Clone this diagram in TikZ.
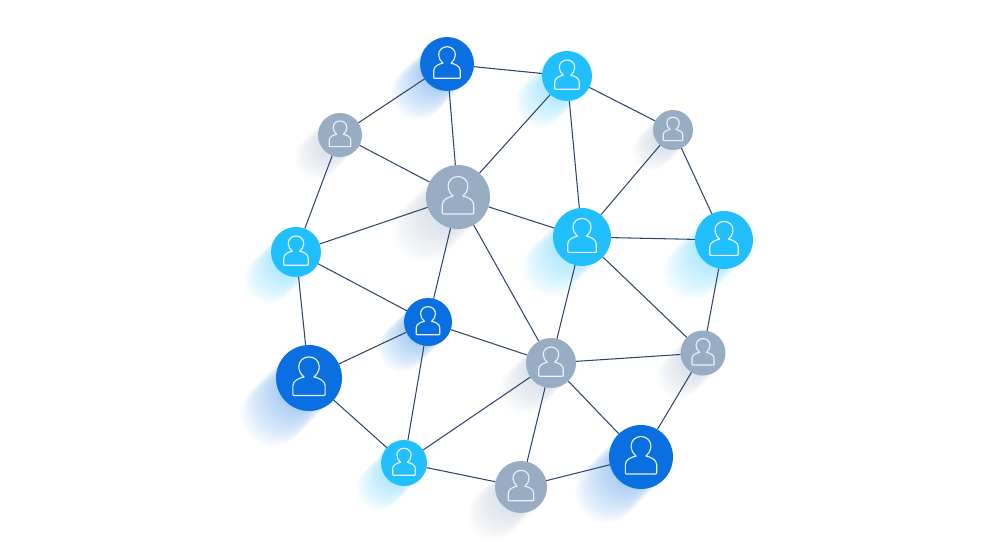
\documentclass[tikz,border=0pt]{standalone}
\definecolor{dk}{HTML}{0A6FE0}
\definecolor{cy}{HTML}{22BFFF}
\definecolor{gy}{HTML}{98ACC4}
\definecolor{ed}{HTML}{2F4668}
\definecolor{ic}{HTML}{EAF2FA}
\pgfdeclarelayer{shadowlayer}
\pgfdeclarelayer{edgelayer}
\pgfsetlayers{shadowlayer,edgelayer,main}
\tikzset{
  person/.style={circle,inner sep=0pt,outer sep=0pt,fill=#1},
  link/.style={draw=ed,line width=1.05pt},
  iconline/.style={draw=ic,line width=1.15pt,line join=round}
}
\newcommand{\usernode}[5]{% name, x, y, r, colour
  \node[person=#5,minimum size=#4*2pt] (#1) at (#2,#3) {};
  \begin{scope}[shift={(#2,#3)},x=#4pt,y=-#4pt]
    \draw[iconline] (-.46,.53) .. controls (-.48,.53) and (-.49,.52) .. (-.49,.5) -- (-.49,.24)
      .. controls (-.49,.08) and (-.3,.0) .. (-.15,-.03)
      .. controls (-.24,-.1) and (-.31,-.22) .. (-.31,-.34)
      .. controls (-.31,-.52) and (-.17,-.64) .. (0,-.64)
      .. controls (.17,-.64) and (.31,-.52) .. (.31,-.34)
      .. controls (.31,-.22) and (.24,-.1) .. (.15,-.03)
      .. controls (.3,.0) and (.49,.08) .. (.49,.24)
      -- (.49,.5) .. controls (.49,.52) and (.48,.53) .. (.46,.53) -- cycle;
  \end{scope}
  \begin{pgfonlayer}{shadowlayer}
    \foreach \k in {1,...,30}{
      \pgfmathsetmacro{\ff}{\k/30}
      \pgfmathsetmacro{\off}{#4*(1.6-1.45*\ff)*0.7071}
      \pgfmathsetmacro{\rad}{#4*(0.99-0.34*\ff)}
      \draw[draw=#5,draw opacity=0.016,line width=2*\rad pt,line cap=round]
        (#2,#3) -- ++(-\off,\off);
    }
  \end{pgfonlayer}
}
\begin{document}
\begin{tikzpicture}[x=1pt,y=-1pt]
\useasboundingbox (0,0) rectangle (988,543);
\usernode{a}{447}{64}{27}{dk}
\usernode{b}{567}{76}{25}{cy}
\usernode{c}{340}{135}{22}{gy}
\usernode{d}{673}{130}{20}{gy}
\usernode{e}{458}{197}{32}{gy}
\usernode{f}{582}{237}{29}{cy}
\usernode{g}{724}{240}{29}{cy}
\usernode{h}{296}{252}{25}{cy}
\usernode{i}{428}{322}{24}{dk}
\usernode{j}{551}{363}{25}{gy}
\usernode{k}{703}{353}{22.5}{gy}
\usernode{l}{309}{378}{33}{dk}
\usernode{m}{404}{463}{23}{cy}
\usernode{n}{521}{487}{26}{gy}
\usernode{o}{641}{457}{32}{dk}
\begin{pgfonlayer}{edgelayer}
\foreach \p/\q in {a/b,a/c,a/e,b/e,b/f,b/d,c/e,c/h,d/f,d/g,e/h,e/f,e/i,e/j,f/g,f/j,f/k,g/k,h/i,h/l,i/l,i/j,i/m,j/k,j/m,j/n,j/o,k/o,l/m,m/n,n/o}
  \draw[link] (\p) -- (\q);
\end{pgfonlayer}
\end{tikzpicture}
\end{document}
